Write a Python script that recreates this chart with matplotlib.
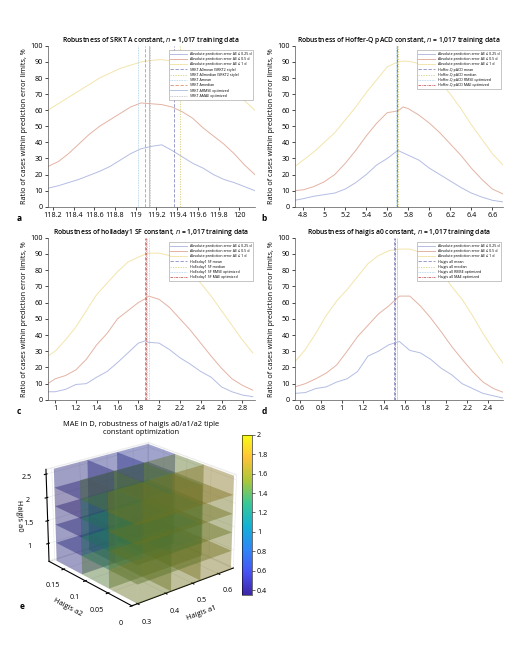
import numpy as np
import matplotlib
matplotlib.use("Agg")
import matplotlib.pyplot as plt
from matplotlib.colors import LinearSegmentedColormap, Normalize
from matplotlib.ticker import FormatStrFormatter

plt.rcParams['font.family'] = ['Open Sans', 'DejaVu Sans']
plt.rcParams['font.size'] = 5

# ---- panel data ----
x_a = [118.15, 118.25, 118.35, 118.45, 118.55, 118.65, 118.75, 118.85, 118.95, 119.05, 119.15,
       119.25, 119.35, 119.45, 119.55, 119.65, 119.75, 119.85, 119.95, 120.05, 120.15]
a_025 = [11.5, 13, 15, 17, 19.5, 22, 25, 29, 33, 36, 37.5, 38.5, 35, 31, 27, 24, 20, 17, 15, 12.5, 10]
a_05 = [25, 28, 33, 39, 45, 50, 54, 58, 62, 64.5, 64, 63.5, 62, 59, 55, 49, 44, 39, 33, 26, 20]
a_1 = [60, 64, 68, 72, 76, 80, 83, 86, 88, 90, 91, 91.5, 90.5, 89, 86, 83, 79, 75, 70, 66, 60]

x_b = [4.72, 4.8, 4.9, 5.0, 5.1, 5.2, 5.3, 5.4, 5.5, 5.6, 5.7, 5.75, 5.8, 5.9, 6.0, 6.1, 6.2,
       6.3, 6.4, 6.5, 6.6, 6.7]
b_025 = [4, 5, 6.5, 7.5, 8.5, 11, 15, 20, 26, 30, 35, 33.5, 32, 29, 24, 20, 16, 12, 8.5, 6, 4, 3]
b_05 = [10, 10.5, 12.5, 15.5, 20, 27, 35, 44, 52, 58.5, 59.5, 62, 61, 57, 52, 46, 39, 32, 24, 17, 11, 8]
b_1 = [25, 29, 34, 40, 46, 54, 62, 71, 79, 87, 90, 90.5, 90.5, 89, 85, 78, 70, 61, 51, 42, 33, 26]

x_c = [0.93, 1.0, 1.1, 1.2, 1.3, 1.4, 1.5, 1.6, 1.7, 1.8, 1.87, 1.9, 2.0, 2.1, 2.2, 2.3, 2.4,
       2.5, 2.6, 2.7, 2.8, 2.9]
c_025 = [5, 5, 6.5, 9.5, 10, 14, 17.5, 23, 29, 35, 36.5, 35.5, 35, 31, 26, 22, 17.5, 14, 8, 5, 3, 2]
c_05 = [10, 13, 15, 18.5, 25, 34, 41, 50, 55, 60, 62.5, 64, 62, 57, 50, 43, 35, 27, 19.5, 13, 9, 6]
c_1 = [27, 30, 37, 45, 55, 65, 72, 79, 85, 88, 90, 90.5, 90.5, 89, 85, 79, 72, 64, 55, 46, 37, 29]

x_d = [0.55, 0.65, 0.75, 0.85, 0.95, 1.05, 1.15, 1.25, 1.35, 1.45, 1.55, 1.65, 1.75, 1.85,
       1.95, 2.05, 2.15, 2.25, 2.35, 2.45, 2.55]
d_025 = [4, 4.5, 7, 8, 11, 13, 17.5, 27, 30, 34, 36, 30.5, 29, 25, 19.5, 15.5, 10, 7, 4, 2.5, 1]
d_05 = [8, 10, 13, 16.5, 21.5, 30, 39, 46, 53, 58, 64, 64, 58, 50.5, 42, 33, 25, 17.5, 11, 7, 4.5]
d_1 = [23.5, 31, 41, 52, 61, 68, 76, 84, 89, 92, 93, 93, 91, 86, 79, 70, 62, 52, 41, 31, 22]

ae_labels = ['Absolute prediction error AE \u2264 0.25 d',
             'Absolute prediction error AE \u2264 0.5 d',
             'Absolute prediction error AE \u2264 1 d']

# constants marked by vertical lines
a_const_names = ['SRKT A0mean (SRKT2 style)', 'SRKT A0median (SRKT2 style)', 'SRKT Amean',
                 'SRKT Amedian', 'SRKT ARMSE optimized', 'SRKT AMAE optimized']
a_const_vals = [119.37, 119.43, 119.02, 119.09, 119.125, 119.14]
b_const_names = ['Hoffer-Q pACD mean', 'Hoffer-Q pACD median', 'Hoffer-Q pACD RMSE optimized',
                 'Hoffer-Q pACD MAE optimized']
b_const_vals = [5.69, 5.70, 5.68, 5.695]
c_const_names = ['Holladay1 SF mean', 'Holladay1 SF median', 'Holladay1 SF RMSE optimized',
                 'Holladay1 SF MAE optimized']
c_const_vals = [1.863, 1.879, 1.905, 1.87]
d_const_names = ['Haigis a0 mean', 'Haigis a0 median', 'Haigis a0 RMSE optimized',
                 'Haigis a0 MAE optimized']
d_const_vals = [1.50, 1.525, 1.53, 1.51]

# ---- panel e data: MAE on a coarse grid, mae[a0][a1][a2] ----
a0_edges = [0.6, 1.0, 1.4, 1.8, 2.2, 2.6]
a1_edges = [0.3, 0.42, 0.53, 0.65]
a2_edges = [0.0, 0.06, 0.12, 0.18]
mae = [
    [[1.55, 1.45, 0.50], [1.60, 1.50, 1.00], [1.65, 1.55, 1.10]],
    [[1.50, 1.30, 0.50], [1.50, 1.25, 0.95], [1.60, 1.40, 1.00]],
    [[1.50, 1.25, 0.45], [1.45, 1.20, 0.90], [1.55, 1.30, 0.95]],
    [[1.55, 1.30, 0.40], [1.50, 1.25, 0.45], [1.60, 1.35, 0.50]],
    [[1.60, 1.45, 0.50], [1.60, 1.45, 0.55], [1.70, 1.50, 0.60]],
]

ae_colors = ['#b4bde3', '#e3b3a3', '#f3e5ab']
const_styles = [('#8c8cc4', (0, (4, 2))), ('#d6cf7a', (0, (1.5, 1.5))), ('#a9cde6', (0, (1, 1))),
                ('#d9906e', (0, (4, 2))), ('#a7bcdc', '-'), ('#b8b8b8', (0, (1, 1)))]
short_styles = [('#8c8cc4', (0, (4, 2))), ('#d6cf7a', (0, (1.5, 1.5))), ('#a9cde6', (0, (1, 1))),
                ('#c86060', (0, (3, 1, 1, 1)))]

fig = plt.figure(figsize=(5.2, 6.46), dpi=100)


def line_panel(rect, x, curves, names, vals, styles, ticks, xlim, title, letter, letter_pos):
    ax = fig.add_axes(rect)
    for y, c, lab in zip(curves, ae_colors, ae_labels):
        ax.plot(x, y, color=c, lw=0.7, label=lab)
    for v, nm, (c, ls) in zip(vals, names, styles):
        ax.axvline(v, color=c, ls=ls, lw=0.6, label=nm)
    ax.set_xlim(xlim)
    ax.set_ylim(0, 100)
    ax.set_yticks(range(0, 101, 10))
    ax.set_xticks(ticks)
    ax.xaxis.set_major_formatter(FormatStrFormatter('%g'))
    for s in ['top', 'right']:
        ax.spines[s].set_visible(False)
    for s in ['left', 'bottom']:
        ax.spines[s].set_linewidth(0.5)
        ax.spines[s].set_color('#555555')
    ax.tick_params(length=2, width=0.5, pad=1.5, labelsize=5.2)
    ax.set_ylabel('Ratio of cases within prediction error limits, %', fontsize=5.2, labelpad=2)
    ax.set_title(title, fontsize=4.9, fontweight='semibold', pad=3)
    leg = ax.legend(loc='upper right', fontsize=2.6, handlelength=4.5, handletextpad=0.8,
                    labelspacing=0.35, borderpad=0.5, fancybox=False, framealpha=1,
                    edgecolor='#999999', bbox_to_anchor=(1.0, 0.985))
    leg.get_frame().set_linewidth(0.4)
    fig.text(letter_pos[0], letter_pos[1], letter, fontsize=6, fontweight='bold')
    return ax


line_panel([0.092, 0.680, 0.398, 0.249], x_a, [a_025, a_05, a_1], a_const_names, a_const_vals,
           const_styles, np.arange(118.2, 120.01, 0.2), (118.15, 120.15),
           'Robustness of SRKT A constant, $\\it{n}$ = 1,017 training data', 'a', (0.032, 0.658))
line_panel([0.567, 0.680, 0.400, 0.249], x_b, [b_025, b_05, b_1], b_const_names, b_const_vals,
           short_styles, np.arange(4.8, 6.61, 0.2), (4.72, 6.7),
           'Robustness of Hoffer-Q pACD constant, $\\it{n}$ = 1,017 training data', 'b', (0.503, 0.658))
line_panel([0.092, 0.381, 0.398, 0.251], x_c, [c_025, c_05, c_1], c_const_names, c_const_vals,
           short_styles, np.arange(1.0, 2.81, 0.2), (0.93, 2.92),
           'Robustness of holladay1 SF constant, $\\it{n}$ = 1,017 training data', 'c', (0.032, 0.359))
line_panel([0.567, 0.381, 0.400, 0.251], x_d, [d_025, d_05, d_1], d_const_names, d_const_vals,
           short_styles, np.arange(0.6, 2.41, 0.2), (0.55, 2.54),
           'Robustness of haigis a0 constant, $\\it{n}$ = 1,017 training data', 'd', (0.503, 0.359))

# ---- panel e ----
parula = LinearSegmentedColormap.from_list('parula', [
    (0.2422, 0.1504, 0.6603), (0.2810, 0.3228, 0.9579), (0.1786, 0.5289, 0.9682),
    (0.0689, 0.6948, 0.8394), (0.2161, 0.7843, 0.5923), (0.6720, 0.7793, 0.2227),
    (0.9970, 0.7659, 0.2199), (0.9769, 0.9839, 0.0805)])
norm = Normalize(0.35, 2.0)

ax3 = fig.add_axes([0.02, 0.032, 0.49, 0.32], projection='3d')
ax3.patch.set_visible(False)
gx, gy, gz = np.meshgrid(a1_edges, a2_edges, a0_edges, indexing='ij')
vals = np.transpose(np.array(mae), (1, 2, 0))  # -> [a1][a2][a0]
cols = parula(norm(vals))
cols[..., :3] *= 0.58   # volume rendering looks darker than the colorbar
cols[..., 3] = 0.25
ii, jj, kk = np.indices(vals.shape)
parity = (ii + jj + kk) % 2 == 0
for mask in [parity, ~parity]:
    ax3.voxels(gx, gy, gz, mask, facecolors=cols, edgecolor='none', linewidth=0, shade=False)
ax3.set_xlim(0.28, 0.66)
ax3.set_ylim(0.0, 0.185)
ax3.set_zlim(0.6, 2.6)
ax3.set_xticks([0.3, 0.4, 0.5, 0.6])
ax3.set_yticks([0, 0.05, 0.1, 0.15])
ax3.set_zticks([1, 1.5, 2, 2.5])
for axis in [ax3.xaxis, ax3.yaxis, ax3.zaxis]:
    axis.set_major_formatter(FormatStrFormatter('%g'))
    axis.pane.fill = False
    axis.pane.set_edgecolor('#dddddd')
    axis._axinfo['grid'].update(color='#e6e6e6', linewidth=0.4)
ax3.tick_params(labelsize=5.2, pad=0)
ax3.set_xlabel('Haigis a1', fontsize=5.4, labelpad=-6)
ax3.set_ylabel('Haigis a2', fontsize=5.4, labelpad=-6)
ax3.set_zlabel('Haigis a0', fontsize=5.4, labelpad=-9)
ax3.view_init(elev=22, azim=-130)
fig.text(0.272, 0.336, 'MAE in D, robustness of haigis a0/a1/a2 tiple\nconstant optimization',
         ha='center', va='center', fontsize=5.4, linespacing=1.2)
fig.text(0.037, 0.058, 'e', fontsize=6, fontweight='bold')

cax = fig.add_axes([0.465, 0.079, 0.02, 0.248])
sm = plt.cm.ScalarMappable(norm=norm, cmap=parula)
cb = fig.colorbar(sm, cax=cax, ticks=np.arange(0.4, 2.01, 0.2))
cb.ax.yaxis.set_major_formatter(FormatStrFormatter('%g'))
cb.ax.tick_params(labelsize=5.2, length=2, width=0.4, pad=1.5)
cb.outline.set_linewidth(0.4)

fig.savefig('out.png', dpi=100)
